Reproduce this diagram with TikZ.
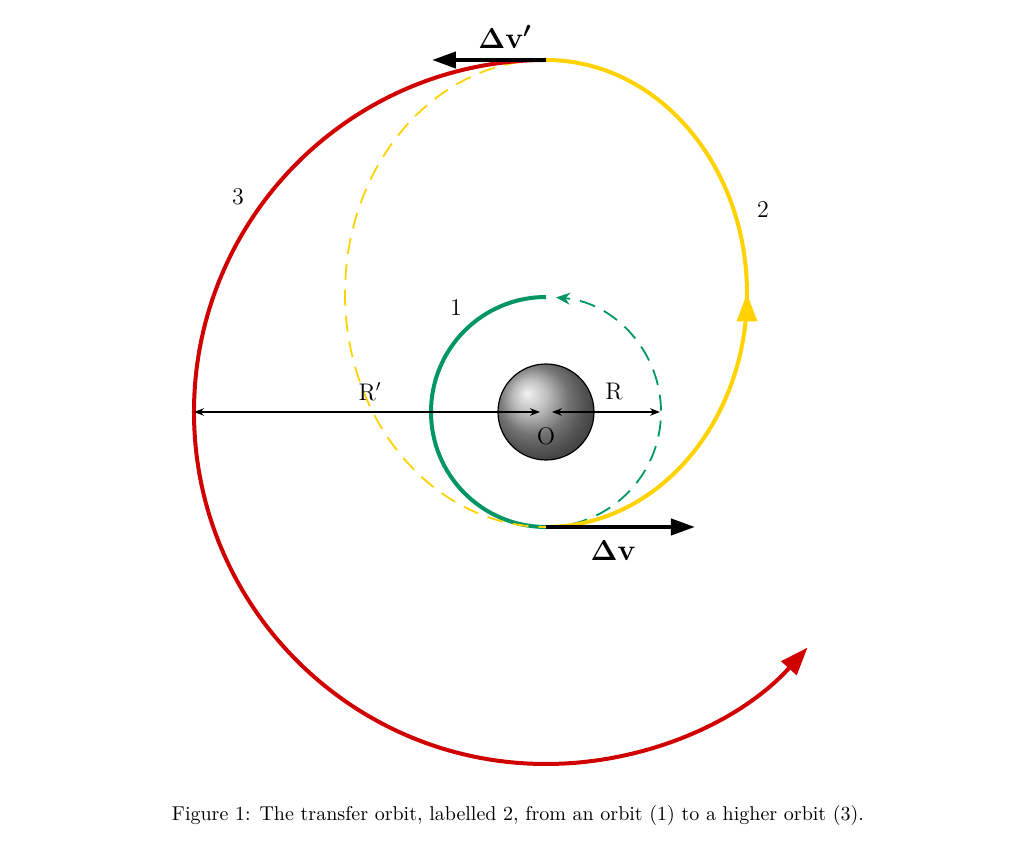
\documentclass[tikz,border=0pt]{standalone}
\usetikzlibrary{arrows.meta,decorations.markings}
\definecolor{og}{RGB}{0,150,100}
\definecolor{oy}{RGB}{255,210,0}
\definecolor{orr}{RGB}{208,0,0}
\begin{document}
\begin{tikzpicture}[x=0.5pt,y=0.5pt,
  orb/.style={line width=2pt},
  dorb/.style={line width=0.9pt,dash pattern=on 8pt off 5pt},
  lab/.style={font=\fontsize{12}{12}\selectfont},
  dv/.style={line width=2pt,-{Triangle[length=12pt,width=8pt]}}]
\useasboundingbox (-546,-437) rectangle (478,412);
\coordinate (O) at (0,0);
\coordinate (peri) at (0,-115);
\coordinate (apo) at (0,352);
% green orbit 1
\draw[orb,og] (0,115) arc[start angle=90,end angle=270,radius=115];
\draw[dorb,og,-{Stealth[length=7pt,width=6pt]}] (peri) arc[start angle=270,end angle=445,radius=115];
% yellow transfer orbit 2
\draw[orb,oy,postaction={decorate},decoration={markings,mark=at position 0.5 with {\arrow{Triangle[length=14pt,width=10pt]}}}]
  (peri) arc[start angle=-90,end angle=90,x radius=201,y radius=233.5];
\draw[dorb,oy] (apo) arc[start angle=90,end angle=270,x radius=201,y radius=233.5];
% red orbit 3
\draw[orb,orr,-{Triangle[length=14pt,width=10pt]}] (apo) arc[start angle=90,end angle=318,radius=352];
% planet
\shade[ball color=gray!70] (O) circle[radius=48];
\draw[line width=0.6pt] (O) circle[radius=48];
% radii
\coordinate (Rl) at (-352,0);
\coordinate (Oa) at (-6,0);
\coordinate (Ob) at (6,0);
\coordinate (Rr) at (114,0);
\draw[line width=0.7pt,{Stealth[length=5pt]}-{Stealth[length=5pt]}] (Rl) -- (Oa);
\draw[line width=0.7pt,{Stealth[length=5pt]}-{Stealth[length=5pt]}] (Ob) -- (Rr);
\node[lab] (lRp) at (-176,20) {R$'$};
\node[lab] (lR) at (68,20) {R};
\node[lab] (lO) at (0,-24) {O};
% delta v
\coordinate (dve) at (149,-115);
\coordinate (dvpe) at (-114,352);
\draw[dv] (peri) -- (dve);
\draw[dv] (apo) -- (dvpe);
\node[font=\fontsize{15}{15}\selectfont\bfseries\boldmath] (ldv) at (67,-139) {$\Delta$v};
\node[font=\fontsize{15}{15}\selectfont\bfseries\boldmath] (ldvp) at (-41,375) {$\Delta$v$'$};
\node[lab] (l1) at (-90,104) {1};
\node[lab] (l2) at (217,202) {2};
\node[lab] (l3) at (-308,215) {3};
\node[font=\fontsize{10}{12}\selectfont] (cap) at (-28,-404) {Figure 1: The transfer orbit, labelled 2, from an orbit (1) to a higher orbit (3).};
\end{tikzpicture}
\end{document}
